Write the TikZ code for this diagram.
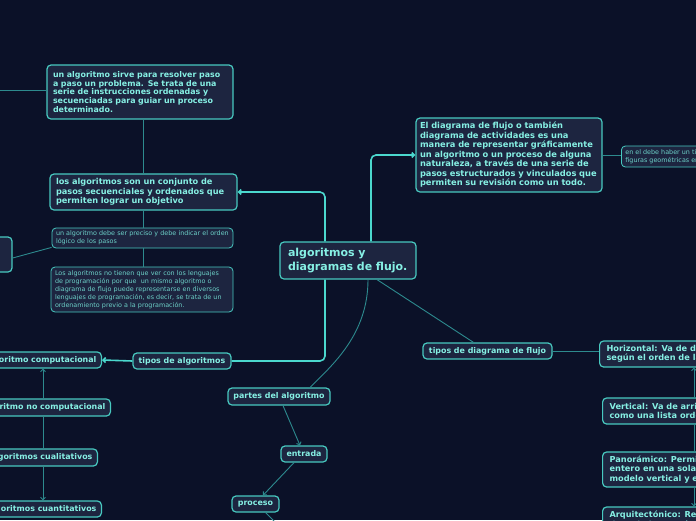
\documentclass[tikz,border=0pt]{standalone}
\usepackage{fontspec}
\setmainfont{DejaVu Sans}
\usetikzlibrary{arrows.meta}
\definecolor{fondo}{HTML}{0B1128}
\definecolor{fondocaja}{HTML}{1D2540}
\definecolor{borde}{HTML}{48C9C0}
\definecolor{textoclaro}{HTML}{86F0E4}
\definecolor{textosuave}{HTML}{6CCFC7}
\definecolor{ramafuerte}{HTML}{4BD8CE}
\definecolor{ramasuave}{HTML}{2D8A8E}

\begin{document}
\begin{tikzpicture}[x=1pt,y=-1pt,
    caja/.style={rounded corners=4pt, fill=fondocaja, draw=borde, line width=1.2pt,
                 text=textoclaro, align=left, inner xsep=6pt, inner ysep=0pt},
    tema/.style={caja, font=\fontsize{11}{14}\selectfont\bfseries, inner xsep=8pt},
    idea/.style={caja, font=\fontsize{7.9}{8.7}\selectfont\bfseries},
    lado/.style={caja, font=\fontsize{8.2}{9.3}\selectfont\bfseries, anchor=west, inner xsep=7pt},
    nota/.style={caja, font=\fontsize{6.4}{8}\selectfont, text=textosuave, line width=0.8pt, inner xsep=4pt},
    etiqueta/.style={caja, font=\fontsize{7.9}{9.3}\selectfont\bfseries, inner xsep=5pt},
    rama/.style={draw=ramafuerte, line width=1.6pt, rounded corners=5pt},
    enlace/.style={draw=ramasuave, line width=0.9pt},
    punta/.style={-{Straight Barb[length=2.5pt,width=5pt]}},
  ]
  \useasboundingbox (0,0) rectangle (696,520);
  \fill[fondo] (0,0) rectangle (696,520);
  \clip (0,0) rectangle (696,520);

  \node[tema, text width=120pt, minimum height=37pt] (raiz) at (348,260.5) {algoritmos y\\diagramas de flujo.};

  \node[idea, text width=174pt, minimum height=54pt] (sirve) at (140,92) {un algoritmo sirve para resolver paso\\a paso un problema. Se trata de una\\serie de instrucciones ordenadas y\\secuenciadas para guiar un proceso\\determinado.};
  \node[idea, font=\fontsize{8.2}{9.7}\selectfont\bfseries, text width=175pt, minimum height=36pt] (conjunto) at (143.5,192) {los algoritmos son un conjunto de\\pasos secuenciales y ordenados que\\permiten lograr un objetivo};
  \node[nota, text width=173pt, minimum height=20pt] (preciso) at (142.5,238) {un algoritmo debe ser preciso y debe indicar el orden\\lógico de los pasos};
  \node[nota, text width=174pt, minimum height=45pt] (lenguajes) at (142,289.5) {Los algoritmos no tienen que ver con los lenguajes\\de programación por que\ \ un mismo algoritmo o\\diagrama de flujo puede representarse en diversos\\lenguajes de programación, es decir, se trata de un\\ordenamiento previo a la programación.};
  \node[caja, minimum width=42pt, minimum height=35pt] (izq) at (-9,254.5) {};

  \node[idea, font=\fontsize{8.3}{9.5}\selectfont\bfseries, inner xsep=4pt, text width=178pt, minimum height=74pt] (flujo) at (509,155) {El diagrama de flujo o también\\diagrama de actividades es una\\manera de representar gráficamente\\un algoritmo o un proceso de alguna\\naturaleza, a través de una serie de\\pasos estructurados y vinculados que\\permiten su revisión como un todo.};
  \node[nota, anchor=west, minimum height=21pt] (figuras) at (621,156.5) {en el debe haber un tipo de\\figuras geométricas en};

  \node[etiqueta, minimum width=98pt, minimum height=16pt] (tiposalg) at (182,361) {tipos de algoritmos};
  \node[etiqueta, anchor=east, minimum height=16pt] (comp) at (102,360) {algoritmo computacional};
  \node[etiqueta, anchor=east, minimum height=17pt] (nocomp) at (111,407.5) {algoritmo no computacional};
  \node[etiqueta, anchor=east, minimum height=17pt] (cuali) at (98,457.5) {algoritmos cualitativos};
  \node[etiqueta, anchor=east, minimum height=16pt] (cuanti) at (102,509) {algoritmos cuantitativos};

  \node[etiqueta, minimum width=102pt, minimum height=17pt] (partes) at (279,396.5) {partes del algoritmo};
  \node[etiqueta, minimum width=46pt, minimum height=16pt] (entrada) at (304,454) {entrada};
  \node[etiqueta, minimum width=47pt, minimum height=16pt] (proceso) at (255.5,504) {proceso};

  \node[etiqueta, minimum width=129pt, minimum height=16pt] (tiposdf) at (487.5,351) {tipos de diagrama de flujo};
  \node[lado, minimum height=26pt] (horiz) at (599,354) {Horizontal: Va de derecha a izquierda,\\según el orden de la lectura.};
  \node[lado, minimum height=26pt] (vert) at (602,411) {Vertical: Va de arriba hacia abajo,\\como una lista ordenada.};
  \node[lado, minimum height=35pt] (pano) at (602,469.5) {Panorámico: Permite ver el proceso\\entero en una sola hoja, usando el\\modelo vertical y el horizontal.};
  \node[lado, minimum height=26pt] (arqui) at (602,520) {Arquitectónico: Representa un itinerario\\de trabajo o un área de trabajo.};

  \coordinate (bordeizq) at (-2,90);
  \coordinate (abajo) at (283,530);
  \coordinate (ejeizq) at (43,0);
  \coordinate (ejeder) at (694,0);

  \draw[rama, punta] ([xshift=-23pt]raiz.north) |- (conjunto.east);
  \draw[rama] ([xshift=-23pt]raiz.south) |- (tiposalg.east);
  \draw[rama, punta] ([xshift=23pt]raiz.north) |- (flujo.west);
  \draw[rama, punta] (tiposalg.west) -- (comp.east);

  \draw[enlace] ([yshift=2pt]sirve.west) -- (bordeizq);
  \draw[enlace] (sirve.south -| conjunto.north) -- (conjunto.north);
  \draw[enlace] (conjunto.south) -- (conjunto.south |- preciso.north);
  \draw[enlace] (preciso.south -| conjunto.south) -- (conjunto.south |- lenguajes.north);
  \draw[enlace] ([yshift=-3.5pt]izq.east) -- ([yshift=1pt]preciso.south west);
  \draw[enlace] (flujo.east) -- (flujo.east -| figuras.west);

  \draw[enlace] ([xshift=20pt]raiz.south) .. controls +(0,55) and +(22,-22) .. ([xshift=31pt]partes.north);
  \draw[enlace, punta] ([xshift=4pt]partes.south) -- ([xshift=-4pt]entrada.north);
  \draw[enlace, punta] ([xshift=-10pt]entrada.south) -- ([xshift=7.5pt]proceso.north);
  \draw[enlace] ([xshift=10pt]proceso.south) -- (abajo);

  \draw[enlace] ([xshift=29pt]raiz.south) -- ([xshift=-14pt]tiposdf.north);
  \draw[enlace] (tiposdf.east) -- (tiposdf.east -| horiz.west);

  \draw[enlace, punta] (nocomp.north -| ejeizq) -- (comp.south -| ejeizq);
  \draw[enlace] (nocomp.south -| ejeizq) -- (cuali.north -| ejeizq);
  \draw[enlace, punta] (cuali.south -| ejeizq) -- (cuanti.north -| ejeizq);

  \draw[enlace, punta] (vert.north -| ejeder) -- (horiz.south -| ejeder);
  \draw[enlace] (vert.south -| ejeder) -- (pano.north -| ejeder);
  \draw[enlace, punta] (pano.south -| ejeder) -- (arqui.north -| ejeder);
\end{tikzpicture}
\end{document}
